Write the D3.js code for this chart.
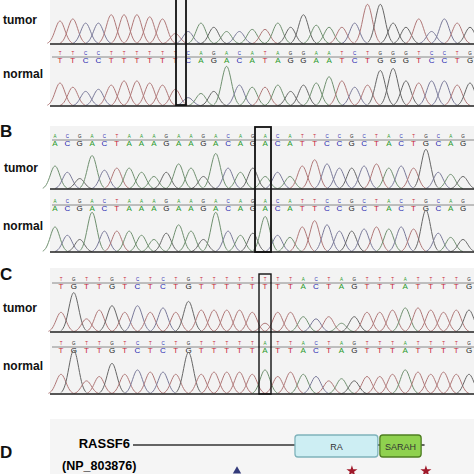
<!DOCTYPE html><html><head><meta charset="utf-8">
<script src="https://cdn.jsdelivr.net/npm/d3@7"></script>
<style>body{margin:0;background:#fff}svg{display:block}</style></head><body>
<svg id="c" width="474" height="474"></svg>
<script>
const seqA = "TTCCTTTTTTCAGACATAGGAATCTGGGTCCTG".split("");
const tumorA = [0.55,0.6,0.5,0.5,0.7,0.7,0.7,0.65,0.6,0.25,0.3,0.5,0.4,0.3,0.3,0.35,0.35,0.5,0.4,0.7,0.45,0.4,0.4,0.5,0.95,0.95,0.5,0.4,0.6,0.3,0.6,0.5,0.4];
const normalA = [0.55,0.45,0.35,0.4,0.5,0.6,0.6,0.55,0.5,0.4,0.2,0.3,0.35,0.95,0.5,0.45,0.45,0.5,0.35,0.5,0.55,0.7,0.6,0.45,0.5,0.85,0.9,0.6,0.55,0.6,0.6,0.5,0.55];
const seqB = "ACGACTAAAGAAGACAGACATTCCGCTACTGCAG".split("");
const tumorB = [0.55,0.4,0.25,0.8,0.45,0.5,0.5,0.4,0.3,0.4,0.6,0.5,0.3,0.85,0.5,0.4,0.5,0.3,0.4,0.3,0.55,0.7,0.6,0.5,0.5,0.55,0.6,0.5,0.55,0.5,0.95,0.4,0.35,0.3];
const normalB = [0.6,0.4,0.3,0.95,0.5,0.5,0.5,0.4,0.3,0.45,0.65,0.5,0.3,0.95,0.5,0.4,0.45,0.85,0.4,0.35,0.6,0.75,0.65,0.5,0.5,0.55,0.6,0.55,0.6,0.55,1.0,0.45,0.35,0.3];
const seqCt = "TGTTGTCTCTGTTTTTTTTACTAGTTTATTTTG".split("");
const seqCn = "TGTTGTCTCTGTTTTTATTACTAGTTTATTTTG".split("");
const tumorC = [0.45,0.9,0.3,0.5,0.6,0.45,0.6,0.45,0.55,0.45,0.7,0.5,0.5,0.5,0.5,0.45,0.2,0.45,0.45,0.35,0.3,0.35,0.2,0.35,0.45,0.45,0.5,0.55,0.55,0.5,0.45,0.5,0.5];
const normalC = [0.45,1.0,0.3,0.4,0.7,0.45,0.55,0.5,0.5,0.45,0.95,0.45,0.5,0.5,0.5,0.45,0.55,0.4,0.5,0.45,0.4,0.3,0.35,0.3,0.4,0.4,0.45,0.55,0.5,0.45,0.5,0.45,0.45];
const domainMarks = [{name:"RA",start:0.475,end:0.718,fill:"#cdeef3",stroke:"#7fb3bb"},{name:"SARAH",start:0.724,end:0.845,fill:"#8fd14f",stroke:"#4f7f22"}];
const sites = [{pos:0.305,shape:"triangle"},{pos:0.642,shape:"star"},{pos:0.859,shape:"star"}];

const svg = d3.select("#c");
const baseCol = {T:"#c8283a",C:"#2a2ab0",A:"#2a9a2a",G:"#222"};
const peakCol = {T:"#b07878",C:"#7a7a9a",A:"#6f906f",G:"#666"};
const F = "Arial, 'Liberation Sans', sans-serif";

function trace(seq, h, x0, x1, base, maxH){
  const x = d3.scaleLinear().domain([0, seq.length-1]).range([x0, x1]);
  const y = d3.scaleLinear().domain([0,1]).range([base, base-maxH]);
  const sp = x(1)-x(0), sig = sp*0.38;
  const line = d3.line().x(d=>d[0]).y(d=>d[1]).curve(d3.curveBasis);
  seq.forEach((b,i)=>{
    const pts = d3.range(-2.6,2.61,0.2).map(t=>[x(i)+t*sig, y(h[i]*Math.exp(-t*t/2))]);
    svg.append("path").attr("d",line(pts)).attr("fill","none").attr("stroke",peakCol[b]).attr("stroke-width",1);
  });
  svg.append("line").attr("x1",50).attr("x2",474).attr("y1",base).attr("y2",base).attr("stroke","#222").attr("stroke-width",1.5);
  return x;
}
function seqRow(seq, x0, x1, yy){
  const x = d3.scaleLinear().domain([0, seq.length-1]).range([x0, x1]);
  svg.append("line").attr("x1",52).attr("x2",474).attr("y1",yy).attr("y2",yy).attr("stroke","#888").attr("stroke-width",1);
  seq.forEach((b,i)=>{
    svg.append("text").attr("x",x(i)).attr("y",yy-2).attr("text-anchor","middle").attr("font-size",4.5).attr("font-family",F).attr("fill",baseCol[b]).text(b);
    svg.append("text").attr("x",x(i)).attr("y",yy+6).attr("text-anchor","middle").attr("font-size",8).attr("font-family",F).attr("fill",baseCol[b]).text(b);
  });
}
function label(t,x,y,s){svg.append("text").attr("x",x).attr("y",y).attr("font-family",F).attr("font-weight","bold").attr("font-size",s).attr("fill","#111").text(t);}
function box(x0,x1,y0,y1,w){svg.append("rect").attr("x",x0).attr("y",y0).attr("width",x1-x0).attr("height",y1-y0).attr("fill","none").attr("stroke","#111").attr("stroke-width",w);}
function bg(y0,y1,c){svg.append("rect").attr("x",50).attr("y",y0).attr("width",424).attr("height",y1-y0).attr("fill",c);}

// Panel A
bg(0,107,"#f3f3f3");
trace(seqA,tumorA,60,470,44,42);
seqRow(seqA,60,470,57);
trace(seqA,normalA,60,470,106,42);
box(176,186,-2,105,1.8);
label("tumor",3,24,12); label("normal",3,78,12);

// Panel B
label("B",0,137,17);
bg(126,253,"#f3f3f3");
seqRow(seqB,55,463,140);
trace(seqB,tumorB,55,463,189,42);
seqRow(seqB,55,463,205);
trace(seqB,normalB,55,463,252,42);
box(255,271,127,252,1.8);
label("tumor",4,172,12); label("normal",3,230,12);

// Panel C
label("C",0,280,17);
bg(268,395,"#f3f3f3");
seqRow(seqCt,61,469,283);
trace(seqCt,tumorC,61,469,332,44);
seqRow(seqCn,61,469,347);
trace(seqCn,normalC,61,469,394,44);
box(259,271,274,394,1.4);
label("tumor",3,312,12); label("normal",3,370,12);

// Panel D
label("D",0,458,17);
bg(419,474,"#f5f5f5");
const px = d3.scaleLinear().domain([0,1]).range([133,474]);
svg.append("text").attr("x",130).attr("y",448).attr("text-anchor","end").attr("font-family",F).attr("font-weight","bold").attr("font-size",13).text("RASSF6");
svg.append("text").attr("x",62).attr("y",470).attr("font-family",F).attr("font-weight","bold").attr("font-size",12.5).text("(NP_803876)");
svg.append("line").attr("x1",px(0)).attr("x2",px(0.855)).attr("y1",445).attr("y2",445).attr("stroke","#333").attr("stroke-width",1.3);
domainMarks.forEach(d=>{
  svg.append("rect").attr("x",px(d.start)).attr("y",435).attr("width",px(d.end)-px(d.start)).attr("height",22).attr("rx",3).attr("fill",d.fill).attr("stroke",d.stroke).attr("stroke-width",1.3);
  svg.append("text").attr("x",(px(d.start)+px(d.end))/2).attr("y",450).attr("text-anchor","middle").attr("font-family",F).attr("font-size",9).attr("fill","#333").text(d.name);
});
sites.forEach(s=>{
  const sym = s.shape==="triangle"?d3.symbolTriangle:d3.symbolStar;
  svg.append("path").attr("d",d3.symbol().type(sym).size(s.shape==="triangle"?30:38)()).attr("transform",`translate(${px(s.pos)},471)`).attr("fill",s.shape==="triangle"?"#333a7a":"#a0192a");
});
</script></body></html>
